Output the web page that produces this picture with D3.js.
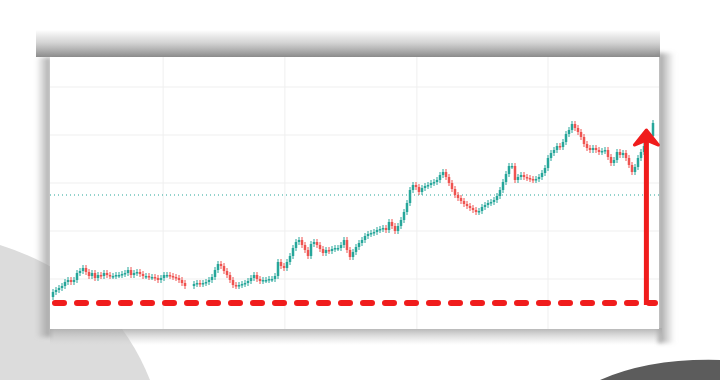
<!DOCTYPE html>
<html>
<head>
<meta charset="utf-8">
<script src="https://cdn.jsdelivr.net/npm/d3@7"></script>
<style>
  body { margin: 0; background: #fff; }
</style>
</head>
<body>
<div id="chart"></div>
<script>
// closing price per bar (null = no trading)
var closes = [38, 40, 42, 44, 48, 50, 48, 50, 57, 59, 62, 58, 54, 57, 52, 55, 54, 57, 55, 54,
    54, 55, 55, 56, 57, 60, 55, 57, 58, 56, 54, 54, 53, 53, 52, 50, 52, 55, 55, 54,
    53, 52, 50, 47, 44, null, null, 46, 47, 46, 47, 48, 50, 53, 60, 66, 64, 59, 55, 50,
    45, 44, 45, 46, 47, 49, 52, 55, 51, 49, 50, 50, 51, 51, 54, 68, 64, 62, 68, 74,
    82, 88, 90, 85, 80, 74, 86, 88, 85, 81, 77, 80, 79, 81, 82, 82, 85, 90, 80, 73,
    78, 83, 87, 90, 94, 96, 97, 98, 100, 101, 102, 100, 108, 104, 99, 104, 110, 118, 127, 140,
    145, 143, 138, 142, 144, 145, 147, 148, 150, 155, 158, 153, 147, 141, 135, 132, 129, 126, 124, 122,
    120, 118, 119, 123, 125, 127, 128, 130, 134, 140, 148, 156, 164, 164, 150, 153, 155, 153, 152, 151,
    150, 151, 153, 157, 162, 172, 177, 180, 184, 183, 188, 196, 200, 206, 202, 198, 193, 186, 182, 180,
    182, 180, 178, 179, 180, 173, 167, 170, 178, 175, 177, 172, 165, 158, 163, 172, 178, 184, 190, 194,
    207];
var firstOpen = 33;
var wick = 3;

var gridPrices = [51, 99, 147, 195, 243];
var gridBars = [36.7, 77.3, 121.3, 165];
var dottedLevel = 135;
var baseLevel = 27;
var arrowBar = 197.8;
var arrowTop = 202;

var width = 720, height = 380;
var panel = { x: 50, y: 57, w: 609, h: 272 };

var svg = d3.select("#chart")
    .append("svg")
    .attr("width", width)
    .attr("height", height);

var defs = svg.append("defs");
function grad(id, x2, y2, stops) {
    var g = defs.append("linearGradient").attr("id", id)
        .attr("x1", 0).attr("y1", 0).attr("x2", x2).attr("y2", y2);
    stops.forEach(function (s) {
        g.append("stop").attr("offset", s[0]).attr("stop-color", s[1]).attr("stop-opacity", s[2]);
    });
}
grad("topShadow", 0, 1, [[0, "#888", 0], [0.45, "#999", 0.4], [1, "#8a8a8a", 1]]);
grad("leftShadow", 1, 0, [[0, "#999", 0], [1, "#9a9a9a", 0.9]]);
grad("rightShadow", 1, 0, [[0, "#8c8c8c", 0.9], [1, "#aaa", 0]]);
grad("bottomShadow", 0, 1, [[0, "#aaa", 0.9], [1, "#ccc", 0]]);
defs.append("filter").attr("id", "soft")
    .attr("x", "-20%").attr("y", "-10%").attr("width", "140%").attr("height", "120%")
    .append("feGaussianBlur").attr("stdDeviation", 2);

// background shapes
svg.append("path")
    .attr("d", "M0,245 Q110,280 150,380 L0,380 Z")
    .attr("fill", "#dcdcdc");
svg.append("path")
    .attr("d", "M600,380 Q650,358 720,360 L720,380 Z")
    .attr("fill", "#5c5c5c");

// frame shadows
svg.append("rect").attr("x", 36).attr("y", 30).attr("width", 624).attr("height", 27)
    .attr("fill", "url(#topShadow)");
svg.append("rect").attr("x", 36).attr("y", 57).attr("width", 15).attr("height", 280)
    .attr("fill", "url(#leftShadow)").attr("filter", "url(#soft)");
svg.append("rect").attr("x", 658).attr("y", 53).attr("width", 17).attr("height", 290)
    .attr("fill", "url(#rightShadow)").attr("filter", "url(#soft)");
svg.append("rect").attr("x", 50).attr("y", 328).attr("width", 612).attr("height", 17)
    .attr("fill", "url(#bottomShadow)");

svg.append("rect")
    .attr("x", panel.x).attr("y", panel.y)
    .attr("width", panel.w).attr("height", panel.h)
    .attr("fill", "#fff");

var x = d3.scaleLinear().domain([0, closes.length - 1]).range([53, 653]);
var y = d3.scaleLinear().domain([0, 273]).range([panel.y + panel.h + 1, panel.y]);

var g = svg.append("g");

g.selectAll(".hgrid").data(gridPrices).enter().append("line")
    .attr("x1", panel.x).attr("x2", panel.x + panel.w)
    .attr("y1", function (d) { return y(d); })
    .attr("y2", function (d) { return y(d); })
    .attr("stroke", "#efefef");
g.selectAll(".vgrid").data(gridBars).enter().append("line")
    .attr("y1", panel.y).attr("y2", panel.y + panel.h)
    .attr("x1", function (d) { return x(d); })
    .attr("x2", function (d) { return x(d); })
    .attr("stroke", "#efefef");

g.append("line")
    .attr("x1", panel.x).attr("x2", panel.x + panel.w)
    .attr("y1", y(dottedLevel)).attr("y2", y(dottedLevel))
    .attr("stroke", "#26a69a")
    .attr("stroke-width", 1.2)
    .attr("stroke-dasharray", "1 3");

// build candles
var bars = [];
var prev = firstOpen;
closes.forEach(function (c, i) {
    if (c == null) return;
    var o = prev;
    bars.push({ i: i, o: o, c: c, h: Math.max(o, c) + wick, l: Math.min(o, c) - wick });
    prev = c;
});

var candle = g.selectAll(".candle").data(bars).enter().append("g");
candle.append("line")
    .attr("x1", function (d) { return x(d.i); })
    .attr("x2", function (d) { return x(d.i); })
    .attr("y1", function (d) { return y(d.h); })
    .attr("y2", function (d) { return y(d.l); })
    .attr("stroke", function (d) { return d.c >= d.o ? "#26a69a" : "#ef5350"; })
    .attr("stroke-width", 1);
candle.append("rect")
    .attr("x", function (d) { return x(d.i) - 1.25; })
    .attr("width", 2.5)
    .attr("y", function (d) { return y(Math.max(d.o, d.c)); })
    .attr("height", function (d) { return Math.max(1.5, Math.abs(y(d.o) - y(d.c))); })
    .attr("fill", function (d) { return d.c >= d.o ? "#26a69a" : "#ef5350"; });

// red dashed base line
g.append("line")
    .attr("x1", panel.x + 5).attr("x2", panel.x + panel.w - 4)
    .attr("y1", y(baseLevel)).attr("y2", y(baseLevel))
    .attr("stroke", "#f01c1c")
    .attr("stroke-width", 6)
    .attr("stroke-linecap", "round")
    .attr("stroke-dasharray", "9 13");

// arrow
var ax = x(arrowBar);
var at = y(arrowTop);
g.append("line")
    .attr("x1", ax).attr("x2", ax)
    .attr("y1", y(baseLevel) + 2).attr("y2", at + 8)
    .attr("stroke", "#f01c1c")
    .attr("stroke-width", 5);
g.append("path")
    .attr("d", "M" + ax + "," + (at + 2) +
        " L" + (ax + 12) + "," + (at + 17) +
        " L" + ax + "," + (at + 12) +
        " L" + (ax - 12) + "," + (at + 17) + " Z")
    .attr("fill", "#f01c1c")
    .attr("stroke", "#f01c1c")
    .attr("stroke-width", 3)
    .attr("stroke-linejoin", "round");
</script>
</body>
</html>
